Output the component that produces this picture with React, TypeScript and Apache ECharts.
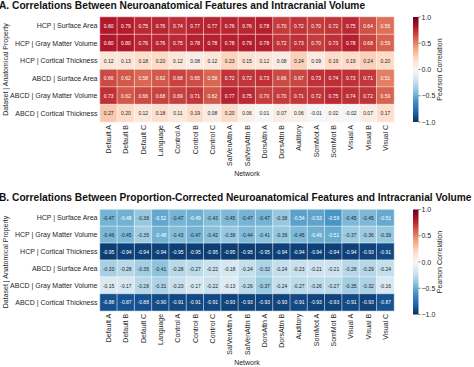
import React, { useEffect, useRef } from "react";
import * as echarts from "echarts";

const networks = [
  "Default A", "Default B", "Default C", "Language", "Control A", "Control B", "Control C",
  "SalVenAttn A", "SalVenAttn B", "DorsAttn A", "DorsAttn B", "Auditory", "SomMot A",
  "SomMot B", "Visual A", "Visual B", "Visual C",
];
const properties = [
  "HCP | Surface Area", "HCP | Gray Matter Volume", "HCP | Cortical Thickness",
  "ABCD | Surface Area", "ABCD | Gray Matter Volume", "ABCD | Cortical Thickness",
];

// Panel A: raw features vs ICV
const rawHcpSA = [0.80, 0.79, 0.75, 0.76, 0.74, 0.77, 0.77, 0.76, 0.76, 0.78, 0.70, 0.72, 0.70, 0.72, 0.75, 0.64, 0.55];
const rawHcpGMV = [0.80, 0.80, 0.76, 0.76, 0.75, 0.78, 0.78, 0.78, 0.79, 0.78, 0.72, 0.73, 0.70, 0.73, 0.78, 0.68, 0.59];
const rawHcpCT = [0.12, 0.13, 0.18, 0.20, 0.12, 0.08, 0.12, 0.23, 0.15, 0.12, 0.08, 0.24, 0.09, 0.19, 0.19, 0.24, 0.20];
const rawAbcdSA = [0.66, 0.62, 0.58, 0.62, 0.68, 0.65, 0.58, 0.72, 0.72, 0.73, 0.66, 0.67, 0.73, 0.74, 0.73, 0.71, 0.51];
const rawAbcdGMV = [0.73, 0.62, 0.66, 0.68, 0.69, 0.71, 0.62, 0.77, 0.75, 0.70, 0.70, 0.71, 0.72, 0.75, 0.74, 0.72, 0.59];
const rawAbcdCT = [0.27, 0.20, 0.12, 0.18, 0.11, 0.19, 0.08, 0.20, 0.06, 0.01, 0.07, 0.06, -0.01, 0.02, -0.02, 0.07, 0.17];

// Panel B: proportion-corrected features vs ICV
const propHcpSA = [-0.47, -0.48, -0.38, -0.52, -0.47, -0.49, -0.43, -0.45, -0.47, -0.47, -0.38, -0.54, -0.53, -0.59, -0.45, -0.45, -0.51];
const propHcpGMV = [-0.46, -0.45, -0.35, -0.48, -0.43, -0.47, -0.42, -0.38, -0.44, -0.41, -0.39, -0.45, -0.49, -0.51, -0.37, -0.36, -0.39];
const propHcpCT = [-0.95, -0.94, -0.94, -0.94, -0.95, -0.95, -0.95, -0.95, -0.95, -0.95, -0.94, -0.94, -0.94, -0.94, -0.94, -0.93, -0.91];
const propAbcdSA = [-0.33, -0.28, -0.35, -0.41, -0.28, -0.27, -0.22, -0.18, -0.24, -0.32, -0.24, -0.23, -0.21, -0.21, -0.28, -0.29, -0.24];
const propAbcdGMV = [-0.15, -0.17, -0.28, -0.31, -0.23, -0.17, -0.22, -0.13, -0.26, -0.37, -0.24, -0.27, -0.26, -0.27, -0.35, -0.32, -0.16];
const propAbcdCT = [-0.88, -0.87, -0.88, -0.90, -0.91, -0.91, -0.91, -0.93, -0.93, -0.93, -0.93, -0.91, -0.93, -0.93, -0.91, -0.93, -0.87];

const colorbarTicks = [1.0, 0.5, 0.0, -0.5, -1.0];

const rdbuR = ["#053061", "#2166ac", "#4393c3", "#92c5de", "#d1e5f0", "#f7f7f7", "#fddbc7", "#f4a582", "#d6604d", "#b2182b", "#67001f"];
const FONT = "'Liberation Sans', Arial, sans-serif";
const TXT = "#262626";

function hexToRgb(h: string) {
  return [parseInt(h.slice(1, 3), 16), parseInt(h.slice(3, 5), 16), parseInt(h.slice(5, 7), 16)];
}
function cmap(v: number) {
  const t = Math.max(0, Math.min(1, (v + 1) / 2)) * 10;
  const i = Math.min(9, Math.floor(t));
  const f = t - i;
  const a = hexToRgb(rdbuR[i]);
  const b = hexToRgb(rdbuR[i + 1]);
  return a.map((c, k) => c + (b[k] - c) * f);
}
function luminance(rgb: number[]) {
  const lin = rgb.map((c) => {
    const s = c / 255;
    return s <= 0.03928 ? s / 12.92 : Math.pow((s + 0.055) / 1.055, 2.4);
  });
  return 0.2126 * lin[0] + 0.7152 * lin[1] + 0.0722 * lin[2];
}

function buildData(rows: number[][]) {
  const out: any[] = [];
  rows.forEach((row, i) => {
    row.forEach((v, j) => {
      const dark = luminance(cmap(v)) > 0.408;
      out.push({ value: [j, i, v], label: { color: dark ? TXT : "#ffffff" } });
    });
  });
  return out;
}

const GRID_LEFT = 100;
const GRID_W = 294;
const GRID_H = 105;
const GRID_TOPS = [17, 209.5];
const CB_X = 413;
const CB_W = 5.5;

export default function App() {
  const ref = useRef<HTMLDivElement>(null);
  useEffect(() => {
    if (!ref.current) return;
    const chart = echarts.init(ref.current, null, { renderer: "svg" });
    const dataA = buildData([rawHcpSA, rawHcpGMV, rawHcpCT, rawAbcdSA, rawAbcdGMV, rawAbcdCT]);
    const dataB = buildData([propHcpSA, propHcpGMV, propHcpCT, propAbcdSA, propAbcdGMV, propAbcdCT]);

    const graphics: any[] = [];
    GRID_TOPS.forEach((top) => {
      graphics.push({
        type: "rect",
        shape: { x: CB_X, y: top, width: CB_W, height: GRID_H },
        style: {
          fill: new echarts.graphic.LinearGradient(0, 1, 0, 0,
            rdbuR.map((c, k) => ({ offset: k / (rdbuR.length - 1), color: c }))),
        },
        silent: true,
      });
      colorbarTicks.forEach((t) => {
        const y = top + ((1 - t) / 2) * GRID_H;
        graphics.push({
          type: "line",
          shape: { x1: CB_X + CB_W, y1: y, x2: CB_X + CB_W + 2, y2: y },
          style: { stroke: TXT, lineWidth: 0.6 },
          silent: true,
        });
        graphics.push({
          type: "text",
          x: CB_X + CB_W + 3,
          y,
          style: {
            text: t.toFixed(1).replace("-", "\u2212"),
            fontSize: 7, fontFamily: FONT, fill: TXT,
            align: "left", verticalAlign: "middle",
          },
          silent: true,
        });
      });
      graphics.push({
        type: "text",
        x: 439,
        y: top + GRID_H / 2,
        rotation: Math.PI / 2,
        style: {
          text: "Pearson Correlation", fontSize: 7, fontFamily: FONT, fill: TXT,
          align: "center", verticalAlign: "middle",
        },
        silent: true,
      });
      graphics.push({
        type: "text",
        x: 5.5,
        y: top + GRID_H / 2,
        rotation: Math.PI / 2,
        style: {
          text: "Dataset | Anatomical Property", fontSize: 7, fontFamily: FONT, fill: TXT,
          align: "center", verticalAlign: "middle",
        },
        silent: true,
      });
    });

    const xAxis = (gi: number) => ({
      type: "category",
      gridIndex: gi,
      data: networks,
      position: "bottom",
      axisLine: { show: false },
      axisTick: { show: false },
      splitLine: { show: false },
      axisLabel: { rotate: 90, fontSize: 7, fontFamily: FONT, color: TXT, margin: 3, interval: 0 },
      name: "Network",
      nameLocation: "middle",
      nameGap: 44,
      nameTextStyle: { fontSize: 7, fontFamily: FONT, color: TXT },
    });
    const yAxis = (gi: number) => ({
      type: "category",
      gridIndex: gi,
      data: properties,
      inverse: true,
      axisLine: { show: false },
      axisTick: { show: false },
      splitLine: { show: false },
      axisLabel: { fontSize: 7, fontFamily: FONT, color: TXT, margin: 2.5, interval: 0 },
    });
    const series = (gi: number, data: any[]) => ({
      type: "heatmap",
      xAxisIndex: gi,
      yAxisIndex: gi,
      data,
      label: { show: true, fontSize: 5, fontFamily: FONT, formatter: (p: any) => p.value[2].toFixed(2) },
      itemStyle: { borderColor: "#ffffff", borderWidth: 0.5 },
      emphasis: { disabled: true },
    });

    chart.setOption({
      animation: false,
      backgroundColor: "#ffffff",
      title: [
        {
          text: "A. Correlations Between Neuroanatomical Features and Intracranial Volume",
          left: -1, top: 0, padding: 0,
          textStyle: { fontSize: 10.2, fontWeight: "bold", fontFamily: FONT, color: "#111" },
        },
        {
          text: "B. Correlations Between Proportion-Corrected Neuroanatomical Features and Intracranial Volume",
          left: -1, top: 192, padding: 0,
          textStyle: { fontSize: 10.2, fontWeight: "bold", fontFamily: FONT, color: "#111" },
        },
      ],
      grid: GRID_TOPS.map((top) => ({ left: GRID_LEFT, top, width: GRID_W, height: GRID_H })),
      xAxis: [xAxis(0), xAxis(1)],
      yAxis: [yAxis(0), yAxis(1)],
      visualMap: {
        type: "continuous",
        min: -1, max: 1,
        show: false,
        seriesIndex: [0, 1],
        inRange: { color: rdbuR },
      },
      series: [series(0, dataA), series(1, dataB)],
      graphic: graphics,
    });
    return () => chart.dispose();
  }, []);
  return <div ref={ref} style={{ position: "fixed", left: 0, top: 0, width: 474, height: 367 }} />;
}
